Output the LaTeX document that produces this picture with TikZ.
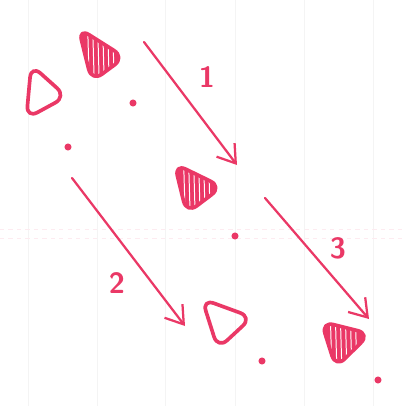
\documentclass[tikz,border=0pt]{standalone}
\usetikzlibrary{arrows.meta}
\usetikzlibrary{calc}
\definecolor{ink}{RGB}{234,56,102}
\begin{document}
\begin{tikzpicture}[x=0.709pt,y=-0.709pt,
        tri/.style={draw=ink, line width=2.6pt, rounded corners=9pt, line join=round},
        move/.style={draw=ink, line width=1.6pt, line cap=round,
            -{Straight Barb[length=12pt,width=16pt,line width=1.6pt]}},
        dot/.style={circle, fill=ink, inner sep=0pt, minimum size=5pt},
        num/.style={text=ink, font=\huge\sffamily\bfseries}]
        \useasboundingbox (0,0) rectangle (406,406);
        % paper grid
        \foreach \gx in {28,97,165,235,304,373}
            \draw[gray!9, line width=0.5pt] (\gx,0) -- (\gx,406);
        \draw[ink!10, line width=0.6pt, dashed] (0,229) -- (406,229);
        \draw[ink!10, line width=0.6pt, dashed] (0,238) -- (406,238);
        % open triangles
        \coordinate (o1a) at (31.2,64.9);
        \coordinate (o1b) at (66.5,96.6);
        \coordinate (o1c) at (26.3,118.5);
        \coordinate (o2a) at (202.0,298.9);
        \coordinate (o2b) at (252.1,317.2);
        \coordinate (o2c) at (217.9,348.9);
        \draw[tri] (o1a) -- (o1b) -- (o1c) -- cycle;
        \draw[tri] (o2a) -- (o2b) -- (o2c) -- cycle;
        % hatched triangles
        \coordinate (f1a) at (78.4,28.0);
        \coordinate (f1b) at (124.8,57.3);
        \coordinate (f1c) at (91.8,81.7);
        \coordinate (f2a) at (174.4,163.6);
        \coordinate (f2b) at (222.0,186.8);
        \coordinate (f2c) at (186.6,213.6);
        \coordinate (f3a) at (321.2,321.5);
        \coordinate (f3b) at (370.0,333.7);
        \coordinate (f3c) at (335.8,367.8);
        \foreach \tri in {f1,f2,f3} {
            \fill[ink, rounded corners=9pt] (\tri a) -- (\tri b) -- (\tri c) -- cycle;
            \begin{scope}
                \clip[rounded corners=9pt] (\tri a) -- (\tri b) -- (\tri c) -- cycle;
                \foreach \k in {9,14,19,24,29,34}
                    \draw[white, line width=0.7pt] ($(\tri a)+(\k,-10)$) -- ($(\tri a)+(\k+2,60)$);
            \end{scope}
            \draw[tri] (\tri a) -- (\tri b) -- (\tri c) -- cycle;
        }
        % dots
        \node[dot] (d1) at (133,103) {};
        \node[dot] (d2) at (68,147) {};
        \node[dot] (d3) at (235,236) {};
        \node[dot] (d4) at (262,361) {};
        \node[dot] (d5) at (378,380) {};
        % moves
        \coordinate (m1s) at (144,42);
        \coordinate (m1e) at (237,165);
        \coordinate (m2s) at (72,178);
        \coordinate (m2e) at (185,326);
        \coordinate (m3s) at (265,198);
        \coordinate (m3e) at (369,319);
        \draw[move] (m1s) -- (m1e);
        \draw[move] (m2s) -- (m2e);
        \draw[move] (m3s) -- (m3e);
        \node[num] (n1) at (207,77) {1};
        \node[num] (n2) at (117,283) {2};
        \node[num] (n3) at (338,248) {3};
    \end{tikzpicture}
\end{document}
